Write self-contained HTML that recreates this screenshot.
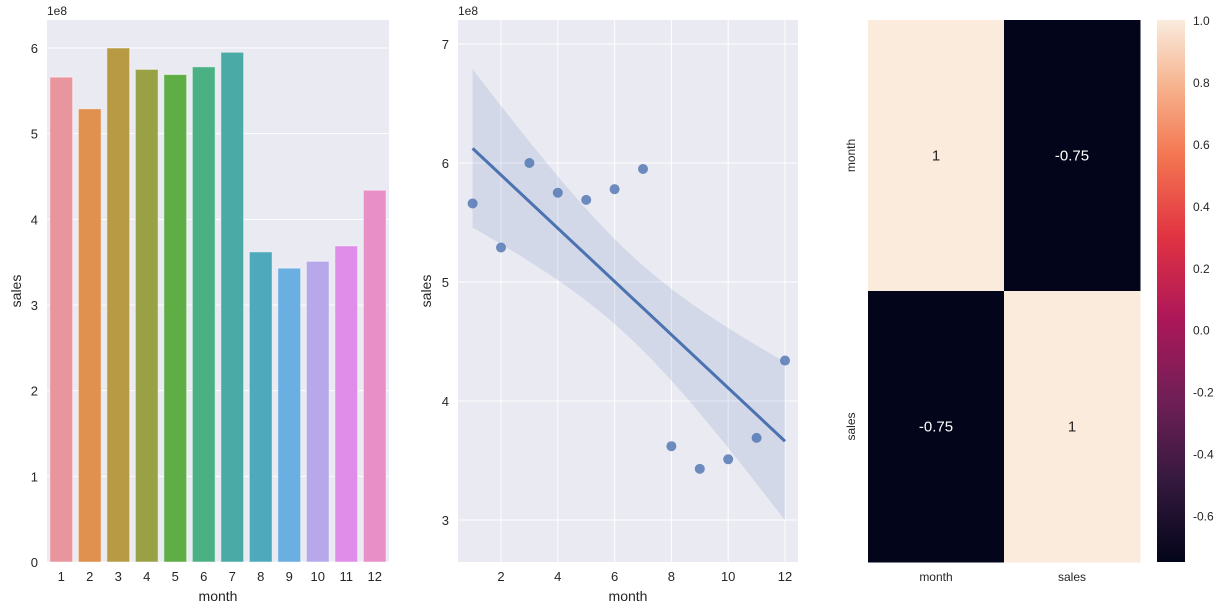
<!DOCTYPE html>
<html><head><meta charset="utf-8"><style>
html,body{margin:0;padding:0;background:#fff;}
svg{display:block;font-family:"Liberation Sans",Arial,sans-serif;}
</style></head><body>
<svg id="c" width="1232" height="613" xmlns="http://www.w3.org/2000/svg"></svg>
<script>
const months=[1,2,3,4,5,6,7,8,9,10,11,12];
const sales=[5.66,5.29,6.00,5.75,5.69,5.78,5.95,3.62,3.43,3.51,3.69,4.34];
const barColors=["#E9959E","#E0904F","#B89A44","#98A145","#5FAE45","#4BB084","#4AAAA5","#4EA9BC","#6AAEE2","#B6A8EB","#E08CE9","#E98FC7"];
const yTicksBar=[0,1,2,3,4,5,6];
const yTicksReg=[3,4,5,6,7];
const xTicksReg=[2,4,6,8,10,12];
const corrLabels=["month","sales"];
const corr=[[1,-0.75],[-0.75,1]];
const cbTicks=[1.0,0.8,0.6,0.4,0.2,0.0,-0.2,-0.4,-0.6];
const NS="http://www.w3.org/2000/svg";
const svg=document.getElementById('c');
function el(t,a,p){const e=document.createElementNS(NS,t);for(const k in a)e.setAttribute(k,a[k]);(p||svg).appendChild(e);return e;}
function txt(s,a,p){const e=el('text',a,p);e.textContent=s;return e;}
const TXT="#262626";

const b={l:47,r:389,t:20,b:562};
const byS=v=>b.b-v*85.67;
const bg1=el('rect',{x:b.l,y:b.t,width:b.r-b.l,height:b.b-b.t,fill:"#EAEAF2"});

yTicksBar.forEach(v=>{
  el('line',{x1:b.l,x2:b.r,y1:byS(v),y2:byS(v),stroke:"#fff","stroke-width":1});
  const t=txt(String(v),{x:b.l-9,y:byS(v)+5,"text-anchor":"end","font-size":13,fill:TXT});
  
});
const bw=(b.r-b.l)/months.length;
months.forEach((m,i)=>{
  const x=b.l+bw*i+bw*0.1;
  const r=el('rect',{x:x,y:byS(sales[i]),width:bw*0.8,height:b.b-byS(sales[i]),fill:barColors[i],stroke:"#fff","stroke-opacity":0.5});
  
  const t=txt(String(m),{x:b.l+bw*(i+0.5),y:b.b+19,"text-anchor":"middle","font-size":13,fill:TXT});
  
});
let t1=txt("1e8",{x:b.l,y:15,"font-size":12,fill:TXT});
t1=txt("month",{x:(b.l+b.r)/2,y:601,"text-anchor":"middle","font-size":14,fill:TXT});
t1=txt("sales",{x:0,y:0,transform:"translate(21,291) rotate(-90)","text-anchor":"middle","font-size":14,fill:TXT});

const g={l:458,r:798,t:20,b:562};
const gx=v=>501+(v-2)*28.4;
const gy=v=>44+(7-v)*119;
const bg2=el('rect',{x:g.l,y:g.t,width:g.r-g.l,height:g.b-g.t,fill:"#EAEAF2"});

yTicksReg.forEach(v=>{
  el('line',{x1:g.l,x2:g.r,y1:gy(v),y2:gy(v),stroke:"#fff"});
  const t=txt(String(v),{x:g.l-9,y:gy(v)+5,"text-anchor":"end","font-size":13,fill:TXT});
  
});
xTicksReg.forEach(v=>{
  el('line',{x1:gx(v),x2:gx(v),y1:g.t,y2:g.b,stroke:"#fff"});
  const t=txt(String(v),{x:gx(v),y:g.b+19,"text-anchor":"middle","font-size":13,fill:TXT});
  
});
const n=months.length;
const mx=months.reduce((a,c)=>a+c,0)/n, my=sales.reduce((a,c)=>a+c,0)/n;
let sxx=0,sxy=0;months.forEach((m,i)=>{sxx+=(m-mx)**2;sxy+=(m-mx)*(sales[i]-my);});
const slope=sxy/sxx, icp=my-slope*mx;
let sse=0;months.forEach((m,i)=>{sse+=(sales[i]-icp-slope*m)**2;});
const s=Math.sqrt(sse/(n-2)), tq=1.65;
const up=[],lo=[];
for(let k=0;k<=50;k++){const x=1+11*k/50;const yh=icp+slope*x;const se=s*Math.sqrt(1/n+(x-mx)**2/sxx);
  up.push(gx(x)+","+gy(yh+tq*se));lo.unshift(gx(x)+","+gy(yh-tq*se));}
const band=el('polygon',{points:up.concat(lo).join(" "),fill:"#4C72B0","fill-opacity":0.15});

const line=el('line',{x1:gx(1),y1:gy(icp+slope),x2:gx(12),y2:gy(icp+slope*12),stroke:"#4C72B0","stroke-width":3});

months.forEach((m,i)=>{
  const c=el('circle',{cx:gx(m),cy:gy(sales[i]),r:5,fill:"#4C72B0","fill-opacity":0.8});
  
});
t1=txt("1e8",{x:g.l,y:15,"font-size":12,fill:TXT});
t1=txt("month",{x:(g.l+g.r)/2,y:601,"text-anchor":"middle","font-size":14,fill:TXT});
t1=txt("sales",{x:0,y:0,transform:"translate(431,291) rotate(-90)","text-anchor":"middle","font-size":14,fill:TXT});

const stops=[[0,"#03051A"],[0.15,"#35193E"],[0.3,"#701F57"],[0.45,"#AD1759"],[0.6,"#E13342"],[0.75,"#F37651"],[0.88,"#F6B48F"],[1,"#FAEBDD"]];
const vmin=-0.75,vmax=1.0;
function hex(h){return [1,3,5].map(i=>parseInt(h.substr(i,2),16));}
function cmap(v){let f=(v-vmin)/(vmax-vmin);f=Math.max(0,Math.min(1,f));
  for(let i=1;i<stops.length;i++){if(f<=stops[i][0]){const a=stops[i-1],c=stops[i];const u=(f-a[0])/(c[0]-a[0]);const A=hex(a[1]),C=hex(c[1]);
    return "rgb("+A.map((x,j)=>Math.round(x+(C[j]-x)*u)).join(",")+")";}}return stops[stops.length-1][1];}
const h={l:868,r:1140,t:20,b:562};
const cw=(h.r-h.l)/2, ch=(h.b-h.t)/2;
corr.forEach((row,i)=>row.forEach((v,j)=>{
  const r=el('rect',{x:h.l+j*cw,y:h.t+i*ch,width:cw+0.5,height:ch+0.5,fill:cmap(v)});
  
  const t=txt(String(v),{x:h.l+(j+0.5)*cw,y:h.t+(i+0.5)*ch+5,"text-anchor":"middle","font-size":15,fill:v>0?"#262626":"#fff"});
  
}));
corrLabels.forEach((l,i)=>{
  let t=txt(l,{x:h.l+(i+0.5)*cw,y:h.b+19,"text-anchor":"middle","font-size":12,fill:TXT});
  
  t=txt(l,{x:0,y:0,transform:"translate("+(h.l-13)+","+(h.t+(i+0.5)*ch)+") rotate(-90)","text-anchor":"middle","font-size":12,fill:TXT});
  
});
const cb={l:1157,r:1185,t:20,b:562};
const defs=el('defs',{});
const lg=el('linearGradient',{id:"cbg",x1:0,y1:1,x2:0,y2:0},defs);
stops.forEach(s=>el('stop',{offset:s[0],"stop-color":s[1]},lg));
const cbr=el('rect',{x:cb.l,y:cb.t,width:cb.r-cb.l,height:cb.b-cb.t,fill:"url(#cbg)"});

const cy=v=>cb.b-(v-vmin)/(vmax-vmin)*(cb.b-cb.t);
cbTicks.forEach(v=>{
  const t=txt(v.toFixed(1),{x:cb.r+8,y:cy(v)+5,"font-size":12,fill:TXT});
  
});
</script>
</body></html>
